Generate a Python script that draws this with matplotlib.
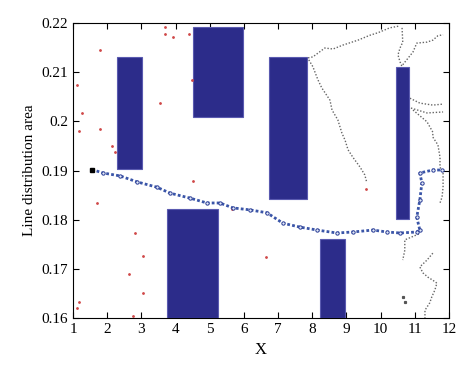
import matplotlib
matplotlib.use('Agg')
import matplotlib.pyplot as plt

plt.rcParams['font.family'] = ['Liberation Serif', 'DejaVu Serif']

# obstacle rectangles: left, right, bottom, top
rect_left = [2.28, 4.50, 6.73, 10.45, 3.75, 8.22]
rect_right = [3.01, 5.98, 7.86, 10.83, 5.24, 8.97]
rect_bottom = [0.1904, 0.2008, 0.1843, 0.1801, 0.16, 0.16]
rect_top = [0.2131, 0.2192, 0.2131, 0.2111, 0.1822, 0.176]

# main (blue) distribution path
blue_x = [1.55, 1.88, 2.38, 2.87, 3.46, 3.84, 4.42, 4.92, 5.30, 5.68, 6.18, 6.68,
          7.14, 7.64, 8.14, 8.72, 9.19, 9.78, 10.19, 10.57, 11.06, 11.15, 11.06,
          11.15, 11.21, 11.15, 11.53, 11.80]
blue_y = [0.1902, 0.1895, 0.1889, 0.1877, 0.1866, 0.1854, 0.1844, 0.1834, 0.1834,
          0.1824, 0.1820, 0.1814, 0.1793, 0.1785, 0.1779, 0.1773, 0.1775, 0.1779,
          0.1775, 0.1773, 0.1775, 0.1779, 0.1805, 0.1840, 0.1875, 0.1895, 0.1901,
          0.1901]

# grey search paths
gray_paths = [
    ([7.88, 8.02, 8.37, 8.61, 8.90, 9.34, 9.69, 9.92, 10.27, 10.57],
     [0.2129, 0.2131, 0.2149, 0.2147, 0.2155, 0.2165, 0.2175, 0.2180, 0.2190, 0.2194]),
    ([10.63, 10.65, 10.57, 10.51, 10.57, 10.63],
     [0.2190, 0.2161, 0.2149, 0.2135, 0.2121, 0.2111]),
    ([10.65, 10.95, 11.06, 11.36, 11.53, 11.68, 11.83],
     [0.2115, 0.2141, 0.2159, 0.2161, 0.2165, 0.2174, 0.2176]),
    ([7.90, 8.02, 8.17, 8.28, 8.52, 8.58, 8.75, 8.87, 8.96, 9.05, 9.19, 9.40, 9.54, 9.60],
     [0.2125, 0.2111, 0.2084, 0.2068, 0.2043, 0.2023, 0.2003, 0.1976, 0.1962, 0.1942,
      0.1927, 0.1907, 0.1891, 0.1875]),
    ([10.86, 11.15, 11.53, 11.83], [0.2047, 0.2037, 0.2033, 0.2035]),
    ([10.89, 11.36, 11.83], [0.2027, 0.2017, 0.2019]),
    ([10.95, 11.36, 11.53, 11.53, 11.68, 11.74, 11.74, 11.83, 11.83, 11.80, 11.74],
     [0.2023, 0.1999, 0.1978, 0.1968, 0.1952, 0.1927, 0.1907, 0.1895, 0.1866, 0.1846,
      0.1834]),
    ([11.12, 10.71, 10.71, 10.65], [0.1771, 0.1759, 0.1738, 0.1718]),
    ([11.53, 11.36, 11.15, 11.24, 11.39, 11.53, 11.65, 11.59, 11.50, 11.44, 11.30, 11.30],
     [0.1732, 0.1718, 0.1704, 0.1692, 0.1683, 0.1677, 0.1671, 0.1657, 0.1643, 0.1631,
      0.1616, 0.1600]),
]
gray_dot_x = [10.65, 10.71]
gray_dot_y = [0.1643, 0.1633]

# scattered red points
red_x = [1.11, 1.27, 1.18, 1.79, 1.80, 2.13, 2.24, 3.55, 3.70, 3.70, 3.93, 4.40, 4.49,
         4.52, 1.69, 2.81, 3.06, 2.65, 3.06, 1.18, 1.11, 2.76, 6.64, 5.64, 9.58]
red_y = [0.2074, 0.2016, 0.1980, 0.2144, 0.1984, 0.1950, 0.1938, 0.2037, 0.2191, 0.2178,
         0.2171, 0.2178, 0.2084, 0.1879, 0.1833, 0.1772, 0.1727, 0.1690, 0.1650, 0.1633,
         0.1620, 0.1604, 0.1724, 0.1821, 0.1862]

fig = plt.figure(figsize=(4.74, 3.76), dpi=100)
ax = fig.add_axes([0.154, 0.154, 0.793, 0.785])

widths = [r - l for l, r in zip(rect_left, rect_right)]
heights = [t - b for b, t in zip(rect_bottom, rect_top)]
ax.bar(rect_left, heights, width=widths, bottom=rect_bottom, align='edge',
       color='#2c2c8a', edgecolor='#5a5ab0', linewidth=0.8, zorder=3)

for px, py in gray_paths:
    ax.plot(px, py, color='#666666', linestyle=(0, (1, 1.3)), linewidth=1.0, zorder=2)
ax.plot(gray_dot_x, gray_dot_y, 's', color='#555555', markersize=1.3, zorder=2)

ax.plot(blue_x, blue_y, color='#3a55a8', linestyle=(0, (1, 0.8)), linewidth=2.0, zorder=4)
ax.plot(blue_x, blue_y, 'o', markersize=2.4, markerfacecolor='#e4ecf8',
        markeredgecolor='#2a3c96', markeredgewidth=0.7, linestyle='none', zorder=5)
ax.plot(blue_x[0], blue_y[0], 's', color='black', markersize=2.2, zorder=6)

ax.plot(red_x, red_y, '.', color='#d04848', markersize=2.0, linestyle='none', zorder=4)

ax.set_xlim(1, 12)
ax.set_ylim(0.16, 0.22)
ax.set_xticks(range(1, 13))
ax.set_yticks([0.16, 0.17, 0.18, 0.19, 0.20, 0.21, 0.22])
ax.set_yticklabels(['0.16', '0.17', '0.18', '0.19', '0.2', '0.21', '0.22'])
ax.tick_params(direction='in', top=True, right=True, labelsize=11, length=4)
ax.set_xlabel('X', fontsize=12)
ax.set_ylabel('Line distribution area', fontsize=11)

fig.savefig('out.png', dpi=100)
